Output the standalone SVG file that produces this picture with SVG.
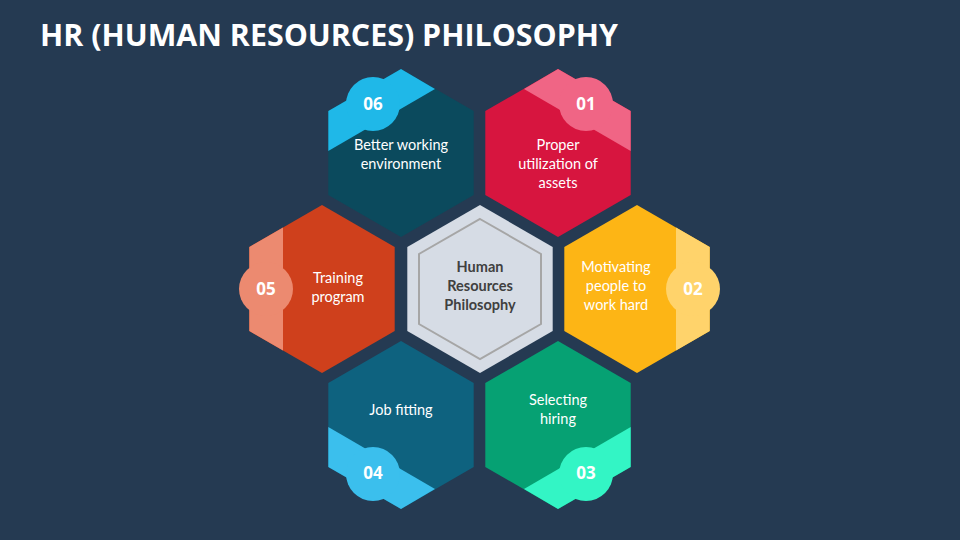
<svg xmlns="http://www.w3.org/2000/svg" width="960" height="540" viewBox="0 0 960 540">
<defs>
<style>
.t{font-family:"Lato","Open Sans","Liberation Sans",sans-serif;font-size:14.5px;fill:#fff;text-anchor:middle}
.n{font-family:"Open Sans","Liberation Sans",sans-serif;font-size:17px;font-weight:bold;fill:#fff;text-anchor:middle}
.c{font-family:"Lato","Open Sans","Liberation Sans",sans-serif;font-size:14.5px;font-weight:bold;fill:#404040;text-anchor:middle}
</style>
<polygon id="hx" points="0,-84 72.7,-42 72.7,42 0,84 -72.7,42 -72.7,-42"/>
</defs>
<rect width="960" height="540" fill="#253a52"/>
<text x="40" y="46" font-family="'Open Sans','Liberation Sans',sans-serif" font-weight="bold" font-size="30" fill="#fff" textLength="578" lengthAdjust="spacingAndGlyphs">HR (HUMAN RESOURCES) PHILOSOPHY</text>
<g id="center">
<use href="#hx" transform="translate(480,289)" fill="#d6dce5"/>
<polygon points="480,219 541,254 541,324 480,359 419,324 419,254" fill="none" stroke="#a6a6a6" stroke-width="2"/>
<text class="c" x="480" y="272">Human</text><text class="c" x="480" y="291">Resources</text><text class="c" x="480" y="310">Philosophy</text>
</g>
<g id="n06">
<use href="#hx" transform="translate(401,153)" fill="#0b4a5d"/>
<polygon points="328.3,111 401,69 435,89 328.3,151" fill="#1fb8e8"/>
<circle cx="373" cy="104" r="27" fill="#1fb8e8"/>
<text class="n" x="373" y="110">06</text>
<text class="t" x="401" y="150">Better working</text><text class="t" x="401" y="169">environment</text>
</g>
<g id="n01">
<use href="#hx" transform="translate(558,153)" fill="#d7153f"/>
<polygon points="630.7,111 558,69 524,89 630.7,151" fill="#f06585"/>
<circle cx="586" cy="104" r="27" fill="#f06585"/>
<text class="n" x="586" y="110">01</text>
<text class="t" x="558" y="150">Proper</text><text class="t" x="558" y="169">utilization of</text><text class="t" x="558" y="188">assets</text>
</g>
<g id="n05">
<use href="#hx" transform="translate(322,289)" fill="#cf401c"/>
<polygon points="249.3,247 283,227.5 283,350.5 249.3,331" fill="#ec8a70"/>
<circle cx="266" cy="289" r="27" fill="#ec8a70"/>
<text class="n" x="266" y="295">05</text>
<text class="t" x="338" y="283">Training</text><text class="t" x="338" y="302">program</text>
</g>
<g id="n02">
<use href="#hx" transform="translate(637,289)" fill="#fdb515"/>
<polygon points="709.7,247 676,227.5 676,350.5 709.7,331" fill="#ffd36b"/>
<circle cx="693" cy="289" r="27" fill="#ffd36b"/>
<text class="n" x="693" y="295">02</text>
<text class="t" x="616" y="272">Motivating</text><text class="t" x="616" y="291">people to</text><text class="t" x="616" y="310">work hard</text>
</g>
<g id="n04">
<use href="#hx" transform="translate(401,425)" fill="#0e627f"/>
<polygon points="328.3,467 401,509 435,489 328.3,427" fill="#3bbfed"/>
<circle cx="373" cy="474" r="27" fill="#3bbfed"/>
<text class="n" x="373" y="479">04</text>
<text class="t" x="401" y="415">Job fitting</text>
</g>
<g id="n03">
<use href="#hx" transform="translate(558,425)" fill="#06a173"/>
<polygon points="630.7,467 558,509 524,489 630.7,427" fill="#33f5c5"/>
<circle cx="586" cy="474" r="27" fill="#33f5c5"/>
<text class="n" x="586" y="479">03</text>
<text class="t" x="558" y="405">Selecting</text><text class="t" x="558" y="424">hiring</text>
</g>
<g id="connectors"/>
</svg>
